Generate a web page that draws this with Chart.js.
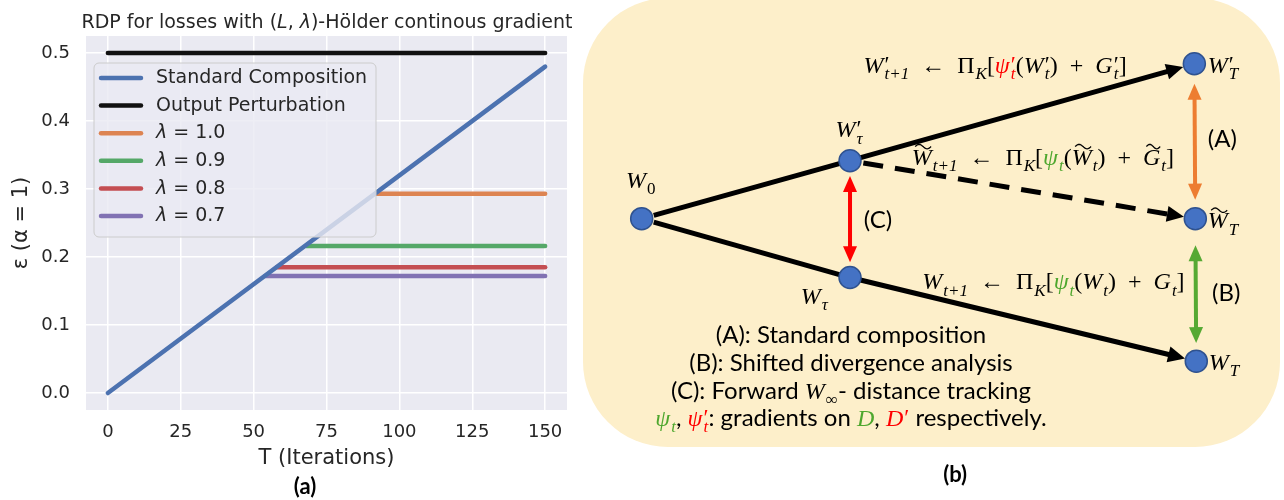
<!DOCTYPE html>
<html>
<head>
<meta charset="utf-8">
<script src="https://cdn.jsdelivr.net/npm/chart.js@4.4.1/dist/chart.umd.min.js"></script>
<style>
  body { margin: 0; background: #fff; width: 1284px; height: 500px; overflow: hidden; position: relative; }
  #left { position: absolute; left: 0; top: 0; }
  #right { position: absolute; left: 580px; top: 0; }
</style>
</head>
<body>
<canvas id="left" width="580" height="500"></canvas>
<canvas id="right" width="704" height="500"></canvas>
<script>
// ---- Datos del panel (a) ----
const iterTicks = [0, 25, 50, 75, 100, 125, 150];
const epsTicks = [0, 0.1, 0.2, 0.3, 0.4, 0.5];
const standardT = [0, 150];
const standardEps = [0, 0.48];
const outputT = [0, 150];
const outputEps = [0.5, 0.5];
const lambdaLabels = ["1.0", "0.9", "0.8", "0.7"];
const lambdaStartT = [92, 68, 58, 54];
const lambdaEndT = [150, 150, 150, 150];
const lambdaEps = [0.293, 0.216, 0.185, 0.172];

// ---- Datos del panel (b): nodos y aristas del diagrama ----
const nodeNames = ["W0", "W'tau", "W'T", "W~T", "Wtau", "WT"];
const nodeX = [631, 847, 1204, 1205, 847, 1206];
const nodeY = [217, 156, 54, 217, 279, 367];
const edgeFrom = [0, 1, 0, 4, 1, 2, 3, 1];
const edgeTo = [1, 2, 4, 5, 3, 3, 5, 4];

// colores seaborn "deep"
const deep = ["#4c72b0", "#111111", "#dd8452", "#55a868", "#c44e52", "#8172b3"];
const ink = "#262626";

// estilos de las aristas (separados de los datos)
const edgeStyle = [
  { color: "#000", width: 5, gapA: 13, gapB: 0 },
  { color: "#000", width: 5, gapA: 0, gapB: 12, headB: true, head: 17, half: 8 },
  { color: "#000", width: 5, gapA: 13, gapB: 0 },
  { color: "#000", width: 5, gapA: 0, gapB: 12, headB: true, head: 17, half: 8 },
  { color: "#000", width: 5, gapA: 14, gapB: 12, headB: true, head: 17, half: 8, dash: [20, 12] },
  { color: "#ed7d31", width: 4, gapA: 21, gapB: 20, headA: true, headB: true, head: 16, half: 7 },
  { color: "#56a933", width: 4, gapA: 28, gapB: 19, headA: true, headB: true, head: 16, half: 7 },
  { color: "#ff0000", width: 4, gapA: 16, gapB: 16, headA: true, headB: true, head: 16, half: 7 },
];

// ---- Texto enriquecido (cursiva, subíndices, superíndices) ----
function richFont(r, size) {
  const fam = r.fam || "'Liberation Serif'";
  return (r.b ? "bold " : "") + (r.i ? "italic " : "") + size + "px " + fam;
}

function drawTilde(ctx, x, y, w, color) {
  ctx.save();
  ctx.strokeStyle = color;
  ctx.lineWidth = 1.3;
  ctx.beginPath();
  for (let i = 0; i <= 20; i++) {
    const px = x + (w * i) / 20;
    const py = y - 2.2 * Math.sin((2 * Math.PI * i) / 20);
    if (i === 0) ctx.moveTo(px, py);
    else ctx.lineTo(px, py);
  }
  ctx.stroke();
  ctx.restore();
}

function drawRich(ctx, runs, x, y, size, align, baseFam) {
  const small = Math.round(size * 0.7);
  const primeSize = Math.round(size * 0.95);
  let total = 0;
  const items = runs.map((r) => {
    const rr = Object.assign({ fam: baseFam }, r);
    ctx.font = richFont(rr, size);
    const mw = ctx.measureText(r.t).width;
    ctx.font = richFont({ i: r.si !== false, fam: r.sfam || baseFam }, small);
    const subW = r.sub ? ctx.measureText(r.sub).width : 0;
    ctx.font = richFont({ fam: r.sfam || baseFam }, primeSize);
    const supW = r.sup ? ctx.measureText(r.sup).width : 0;
    const sw = Math.max(subW, supW);
    const it = { r: rr, x0: total, mw, sw };
    total += mw + (sw ? sw + 1 : 0);
    return it;
  });
  const sx = align === "center" ? x - total / 2 : align === "right" ? x - total : x;
  const base = y + size * 0.33;
  ctx.save();
  ctx.textAlign = "left";
  ctx.textBaseline = "alphabetic";
  items.forEach((it) => {
    const r = it.r;
    const col = r.c || "#000";
    ctx.fillStyle = col;
    ctx.font = richFont(r, size);
    ctx.fillText(r.t, sx + it.x0, base);
    if (r.tilde) drawTilde(ctx, sx + it.x0 + size * 0.14, base - size * 0.76, it.mw * 0.8, col);
    const ox = sx + it.x0 + it.mw + 1;
    ctx.font = richFont({ i: r.si !== false, fam: r.sfam || baseFam }, small);
    if (r.sub) ctx.fillText(r.sub, ox, base + size * 0.26);
    ctx.font = richFont({ fam: r.sfam || baseFam }, primeSize);
    if (r.sup) ctx.fillText(r.sup, ox, base - size * 0.04);
  });
  ctx.restore();
  return total;
}

// ---- Panel (a): gráfico de líneas ----
const leftDatasets = [
  {
    label: "Standard Composition",
    data: standardT.map((t, i) => ({ x: t, y: standardEps[i] })),
    borderColor: deep[0],
  },
  {
    label: "Output Perturbation",
    data: outputT.map((t, i) => ({ x: t, y: outputEps[i] })),
    borderColor: deep[1],
  },
].concat(
  lambdaLabels.map((lab, k) => ({
    label: "λ = " + lab,
    data: [
      { x: lambdaStartT[k], y: lambdaEps[k] },
      { x: lambdaEndT[k], y: lambdaEps[k] },
    ],
    borderColor: deep[k + 2],
  }))
);
leftDatasets.forEach((d) => {
  d.borderWidth = 4.5;
  d.borderCapStyle = "round";
  d.pointRadius = 0;
  d.fill = false;
  d.tension = 0;
});
// la línea azul se dibuja por encima
leftDatasets[0].order = -1;

const plotBackground = {
  id: "plotBackground",
  beforeDraw(chart) {
    const { ctx, chartArea: a } = chart;
    ctx.save();
    ctx.fillStyle = "#eaeaf2";
    ctx.fillRect(a.left, a.top, a.right - a.left, a.bottom - a.top);
    ctx.restore();
  },
};

const insetLegend = {
  id: "insetLegend",
  afterDatasetsDraw(chart) {
    const ctx = chart.ctx;
    const x0 = 94, y0 = 63, w = 282, h = 174;
    ctx.save();
    ctx.beginPath();
    ctx.roundRect(x0, y0, w, h, 5);
    ctx.fillStyle = "rgba(234,234,242,0.8)";
    ctx.fill();
    ctx.strokeStyle = "#cccccc";
    ctx.lineWidth = 1;
    ctx.stroke();
    chart.data.datasets.forEach((d, i) => {
      const yy = 78 + i * 27.6;
      ctx.beginPath();
      ctx.moveTo(101, yy);
      ctx.lineTo(141, yy);
      ctx.strokeStyle = d.borderColor;
      ctx.lineWidth = 4.5;
      ctx.lineCap = "round";
      ctx.stroke();
      let runs;
      if (d.label.startsWith("λ")) runs = [{ t: "λ", i: true, c: ink }, { t: d.label.slice(1), c: ink }];
      else runs = [{ t: d.label, c: ink }];
      drawRich(ctx, runs, 156, yy - 1, 19, "left", "'DejaVu Sans'");
    });
    ctx.restore();
  },
};

const leftTexts = {
  id: "leftTexts",
  afterDraw(chart) {
    const ctx = chart.ctx;
    drawRich(
      ctx,
      [
        { t: "RDP for losses with (", c: ink },
        { t: "L", i: true, c: ink },
        { t: ", ", c: ink },
        { t: "λ", i: true, c: ink },
        { t: ")-Hölder continous gradient", c: ink },
      ],
      327, 22, 19, "center", "'DejaVu Sans'"
    );
    ctx.save();
    ctx.fillStyle = "#000";
    ctx.font = "bold 22px Lato";
    ctx.textAlign = "center";
    ctx.textBaseline = "middle";
    ctx.fillText("(a)", 305, 487);
    ctx.restore();
  },
};

const tickFont = { family: "DejaVu Sans", size: 18 };
const titleFont = { family: "DejaVu Sans", size: 21 };

new Chart(document.getElementById("left"), {
  type: "line",
  data: { datasets: leftDatasets },
  options: {
    responsive: false,
    animation: false,
    layout: { padding: { top: 36, right: 13, left: 0, bottom: 0 } },
    plugins: { legend: { display: false }, tooltip: { enabled: false } },
    scales: {
      x: {
        type: "linear",
        min: -7.5,
        max: 157.5,
        afterFit: (s) => { s.height = 90; },
        afterBuildTicks: (s) => { s.ticks = iterTicks.map((v) => ({ value: v })); },
        grid: { color: "#ffffff", lineWidth: 1.5, drawTicks: false },
        border: { display: false },
        ticks: { font: tickFont, color: ink, padding: 12, maxRotation: 0 },
        title: { display: true, text: "T (Iterations)", font: titleFont, color: ink, padding: { top: 0, bottom: 29 } },
      },
      y: {
        type: "linear",
        min: -0.025,
        max: 0.525,
        afterFit: (s) => { s.width = 86; },
        afterBuildTicks: (s) => { s.ticks = epsTicks.map((v) => ({ value: v })); },
        grid: { color: "#ffffff", lineWidth: 1.5, drawTicks: false },
        border: { display: false },
        ticks: { font: tickFont, color: ink, padding: 16, callback: (v) => v.toFixed(1) },
        title: { display: true, text: "ε (α = 1)", font: titleFont, color: ink, padding: { top: 9, bottom: 0 } },
      },
    },
  },
  plugins: [plotBackground, insetLegend, leftTexts],
});

// ---- Panel (b): diagrama dibujado como gráfico de dispersión ----
const edges = edgeFrom.map((f, k) => {
  const st = edgeStyle[k];
  const ax = nodeX[f], ay = nodeY[f];
  const bx = nodeX[edgeTo[k]], by = nodeY[edgeTo[k]];
  const len = Math.hypot(bx - ax, by - ay);
  const ux = (bx - ax) / len, uy = (by - ay) / len;
  const s = { x: ax + ux * st.gapA, y: ay + uy * st.gapA };
  const e = { x: bx - ux * st.gapB, y: by - uy * st.gapB };
  const ls = st.headA ? { x: s.x + ux * st.head * 0.7, y: s.y + uy * st.head * 0.7 } : s;
  const le = st.headB ? { x: e.x - ux * st.head * 0.7, y: e.y - uy * st.head * 0.7 } : e;
  return { st, s, e, ls, le, ux, uy };
});

const rightDatasets = [
  {
    type: "scatter",
    label: "nodos",
    data: nodeX.map((x, i) => ({ x, y: nodeY[i] })),
    pointRadius: 11,
    pointBackgroundColor: "#4472c4",
    pointBorderColor: "#2f528f",
    pointBorderWidth: 1.5,
    showLine: false,
  },
].concat(
  edges.map((ed) => ({
    type: "line",
    data: [ed.ls, ed.le],
    borderColor: ed.st.color,
    borderWidth: ed.st.width,
    borderDash: ed.st.dash || [],
    pointRadius: 0,
    fill: false,
  }))
);
rightDatasets.forEach((d) => { d.clip = false; });

const panelBackground = {
  id: "panelBackground",
  beforeDraw(chart) {
    const ctx = chart.ctx;
    ctx.save();
    ctx.beginPath();
    ctx.roundRect(3, -2, 697, 449, 85);
    ctx.fillStyle = "#fdefca";
    ctx.fill();
    ctx.restore();
  },
};

const arrowHeads = {
  id: "arrowHeads",
  afterDatasetsDraw(chart) {
    const ctx = chart.ctx;
    const xs = chart.scales.x, ys = chart.scales.y;
    const head = (p, ux, uy, st) => {
      const tx = xs.getPixelForValue(p.x), ty = ys.getPixelForValue(p.y);
      const bx = tx - ux * st.head, by = ty - uy * st.head;
      ctx.beginPath();
      ctx.moveTo(tx, ty);
      ctx.lineTo(bx - uy * st.half, by + ux * st.half);
      ctx.lineTo(bx + uy * st.half, by - ux * st.half);
      ctx.closePath();
      ctx.fillStyle = st.color;
      ctx.fill();
    };
    ctx.save();
    edges.forEach((ed) => {
      if (ed.st.headB) head(ed.e, ed.ux, ed.uy, ed.st);
      if (ed.st.headA) head(ed.s, -ed.ux, -ed.uy, ed.st);
    });
    ctx.restore();
  },
};

const red = "#ff0000", green = "#4ea72e";
const serif = "'Liberation Serif'";
const sans = "Lato";

const diagramTexts = {
  id: "diagramTexts",
  afterDraw(chart) {
    const ctx = chart.ctx;
    const xs = chart.scales.x, ys = chart.scales.y;
    const P = (x, y) => [xs.getPixelForValue(x), ys.getPixelForValue(y)];
    const put = (runs, x, y, size, align, fam) => {
      const [px, py] = P(x, y);
      drawRich(ctx, runs, px, py, size, align, fam || serif);
    };
    // etiquetas de los nodos
    put([{ t: "W", i: true, sub: "0", si: false }], 630, 176, 24, "center");
    put([{ t: "W", i: true, sup: "′", sub: "τ" }], 846, 123, 24, "center");
    put([{ t: "W", i: true, sup: "′", sub: "T" }], 1218, 55, 24, "left");
    put([{ t: "W", i: true, tilde: true, sub: "T" }], 1218, 219, 24, "left");
    put([{ t: "W", i: true, sub: "τ" }], 810, 298, 24, "center");
    put([{ t: "W", i: true, sub: "T" }], 1219, 368, 24, "left");
    // reglas de actualización
    put([
      { t: "W", i: true, sup: "′", sub: "t+1" },
      { t: "  ←  Π", sub: "K" },
      { t: "[" },
      { t: "ψ", i: true, c: red, sup: "′", sub: "t" },
      { t: "(" },
      { t: "W", i: true, sup: "′", sub: "t" },
      { t: ")  +  " },
      { t: "G", i: true, sup: "′", sub: "t" },
      { t: "]" },
    ], 861, 55, 24, "left");
    put([
      { t: "W", i: true, tilde: true, sub: "t+1" },
      { t: "  ←  Π", sub: "K" },
      { t: "[" },
      { t: "ψ", i: true, c: green, sub: "t" },
      { t: "(" },
      { t: "W", i: true, tilde: true, sub: "t" },
      { t: ")  +  " },
      { t: "G", i: true, tilde: true, sub: "t" },
      { t: "]" },
    ], 911, 152, 24, "left");
    put([
      { t: "W", i: true, sub: "t+1" },
      { t: "  ←  Π", sub: "K" },
      { t: "[" },
      { t: "ψ", i: true, c: green, sub: "t" },
      { t: "(" },
      { t: "W", i: true, sub: "t" },
      { t: ")  +  " },
      { t: "G", i: true, sub: "t" },
      { t: "]" },
    ], 922, 283, 24, "left");
    // etiquetas de las flechas
    put([{ t: "(A)" }], 1233, 133, 24, "center", sans);
    put([{ t: "(B)" }], 1237, 295, 24, "center", sans);
    put([{ t: "(C)" }], 876, 218, 24, "center", sans);
    // leyenda del diagrama
    put([{ t: "(A): Standard composition" }], 848, 340, 24, "center", sans);
    put([{ t: "(B): Shifted divergence analysis" }], 848, 369, 24, "center", sans);
    put([
      { t: "(C): Forward " },
      { t: "W", i: true, fam: serif, sub: "∞", si: false, sfam: serif },
      { t: "- distance tracking" },
    ], 848, 398, 24, "center", sans);
    put([
      { t: "ψ", i: true, fam: serif, c: green, sub: "t", sfam: serif },
      { t: ", " },
      { t: "ψ", i: true, fam: serif, c: red, sup: "′", sub: "t", sfam: serif },
      { t: ": gradients on " },
      { t: "D", i: true, fam: serif, c: green },
      { t: ", " },
      { t: "D", i: true, fam: serif, c: red, sup: "′", sfam: serif },
      { t: " respectively." },
    ], 848, 427, 24, "center", sans);
    const [bx, by] = P(956, 487);
    ctx.save();
    ctx.fillStyle = "#000";
    ctx.font = "bold 22px Lato";
    ctx.textAlign = "center";
    ctx.textBaseline = "middle";
    ctx.fillText("(b)", bx, by);
    ctx.restore();
  },
};

new Chart(document.getElementById("right"), {
  type: "scatter",
  data: { datasets: rightDatasets },
  options: {
    responsive: false,
    animation: false,
    layout: { padding: 0 },
    plugins: { legend: { display: false }, tooltip: { enabled: false } },
    scales: {
      x: { type: "linear", display: false, min: 580, max: 1284 },
      y: { type: "linear", display: false, min: 0, max: 500, reverse: true },
    },
  },
  plugins: [panelBackground, arrowHeads, diagramTexts],
});
</script>
</body>
</html>
